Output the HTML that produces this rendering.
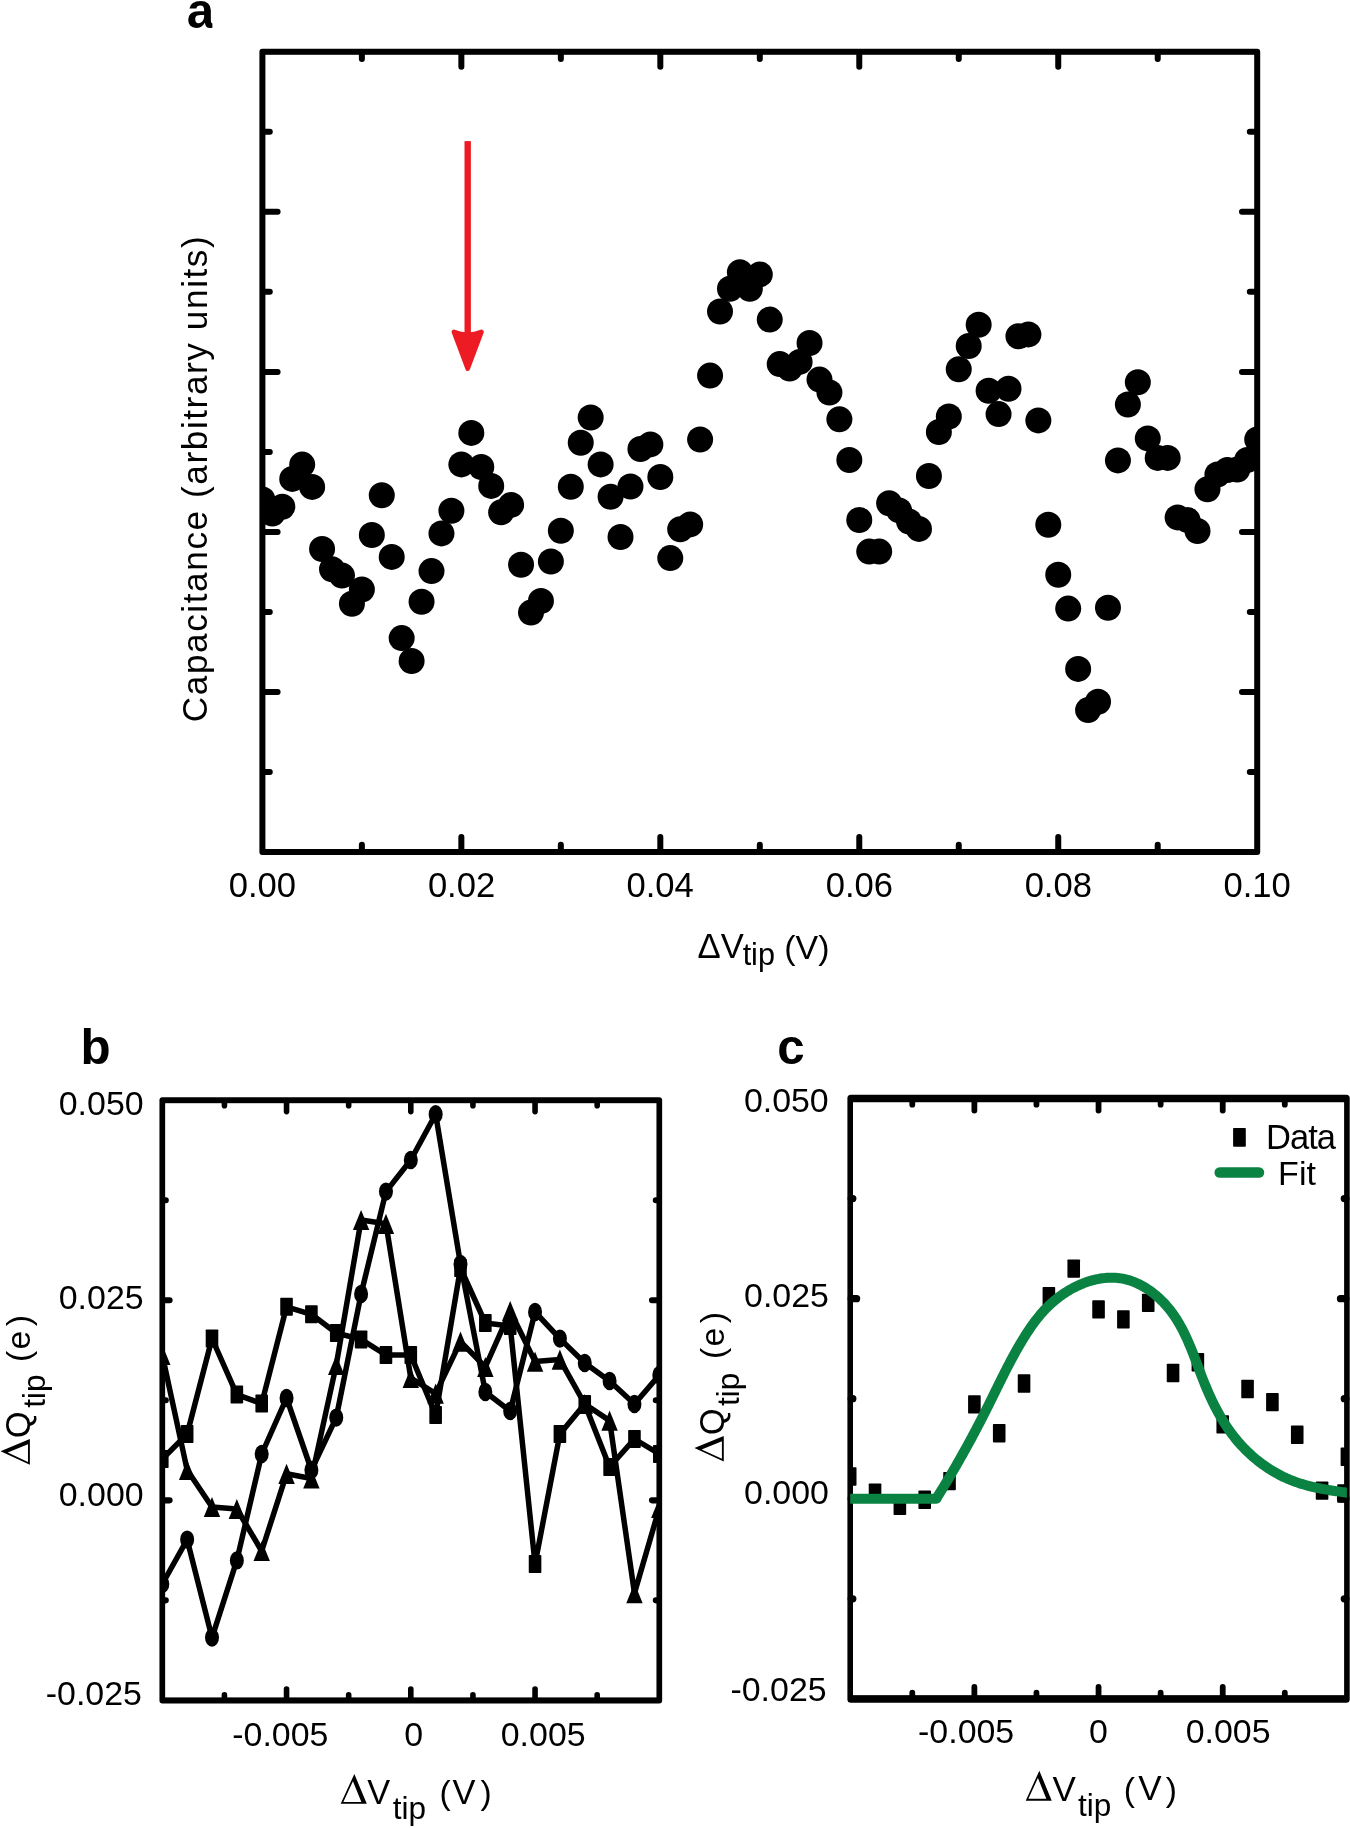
<!DOCTYPE html>
<html><head><meta charset="utf-8"><style>
html,body{margin:0;padding:0;background:#fff;width:1350px;height:1828px;overflow:hidden}
svg{display:block;will-change:transform}
</style></head><body>
<svg width="1350" height="1828" viewBox="0 0 1350 1828" font-family='"Liberation Sans", sans-serif'>
<rect width="1350" height="1828" fill="#fff"/>
<rect x="259.4" y="48.8" width="1000.8" height="806.2" rx="3" fill="#000"/>
<rect x="265.4" y="54.8" width="988.8" height="794.2" fill="#fff"/>
<path d="M263.4 131.82H269.8M1256.2 131.82H1249.8M263.4 211.84H277.6M1256.2 211.84H1242M263.4 291.86H269.8M1256.2 291.86H1249.8M263.4 371.88H277.6M1256.2 371.88H1242M263.4 451.9H269.8M1256.2 451.9H1249.8M263.4 531.92H277.6M1256.2 531.92H1242M263.4 611.94H269.8M1256.2 611.94H1249.8M263.4 691.96H277.6M1256.2 691.96H1242M263.4 771.98H269.8M1256.2 771.98H1249.8" fill="none" stroke="#000" stroke-width="6" stroke-linecap="round"/>
<path d="M361.88 52.8V59M361.88 851V844.8M461.36 52.8V66.8M461.36 851V837M560.84 52.8V59M560.84 851V844.8M660.32 52.8V66.8M660.32 851V837M759.8 52.8V59M759.8 851V844.8M859.28 52.8V66.8M859.28 851V837M958.76 52.8V59M958.76 851V844.8M1058.24 52.8V66.8M1058.24 851V837M1157.72 52.8V59M1157.72 851V844.8" fill="none" stroke="#000" stroke-width="6" stroke-linecap="round"/>
<clipPath id="ca"><rect x="262.4" y="51.8" width="994.8" height="800.2"/></clipPath>
<g fill="#000" clip-path="url(#ca)">
<circle cx="262.4" cy="499.5" r="13"/>
<circle cx="272.35" cy="513.6" r="13"/>
<circle cx="282.3" cy="506.8" r="13"/>
<circle cx="292.24" cy="478.9" r="13"/>
<circle cx="302.19" cy="464.6" r="13"/>
<circle cx="312.14" cy="486.9" r="13"/>
<circle cx="322.09" cy="549" r="13"/>
<circle cx="332.04" cy="569.3" r="13"/>
<circle cx="341.98" cy="575.6" r="13"/>
<circle cx="351.93" cy="603.7" r="13"/>
<circle cx="361.88" cy="589.5" r="13"/>
<circle cx="371.83" cy="535" r="13"/>
<circle cx="381.78" cy="495.3" r="13"/>
<circle cx="391.72" cy="556.9" r="13"/>
<circle cx="401.67" cy="638.1" r="13"/>
<circle cx="411.62" cy="661" r="13"/>
<circle cx="421.57" cy="601.7" r="13"/>
<circle cx="431.52" cy="571.1" r="13"/>
<circle cx="441.46" cy="533.4" r="13"/>
<circle cx="451.41" cy="510.7" r="13"/>
<circle cx="461.36" cy="464.4" r="13"/>
<circle cx="471.31" cy="432.9" r="13"/>
<circle cx="481.26" cy="467" r="13"/>
<circle cx="491.2" cy="485.9" r="13"/>
<circle cx="501.15" cy="512.3" r="13"/>
<circle cx="511.1" cy="504.9" r="13"/>
<circle cx="521.05" cy="564.7" r="13"/>
<circle cx="531" cy="612.6" r="13"/>
<circle cx="540.94" cy="601" r="13"/>
<circle cx="550.89" cy="561.5" r="13"/>
<circle cx="560.84" cy="530.7" r="13"/>
<circle cx="570.79" cy="486.7" r="13"/>
<circle cx="580.74" cy="442.7" r="13"/>
<circle cx="590.68" cy="417.5" r="13"/>
<circle cx="600.63" cy="464.4" r="13"/>
<circle cx="610.58" cy="496.7" r="13"/>
<circle cx="620.53" cy="537" r="13"/>
<circle cx="630.48" cy="486.5" r="13"/>
<circle cx="640.42" cy="449" r="13"/>
<circle cx="650.37" cy="444.4" r="13"/>
<circle cx="660.32" cy="477" r="13"/>
<circle cx="670.27" cy="558.1" r="13"/>
<circle cx="680.22" cy="529.3" r="13"/>
<circle cx="690.16" cy="524.4" r="13"/>
<circle cx="700.11" cy="439.5" r="13"/>
<circle cx="710.06" cy="375.6" r="13"/>
<circle cx="720.01" cy="311.5" r="13"/>
<circle cx="729.96" cy="288.8" r="13"/>
<circle cx="739.9" cy="272.2" r="13"/>
<circle cx="749.85" cy="288.8" r="13"/>
<circle cx="759.8" cy="274.4" r="13"/>
<circle cx="769.75" cy="319.6" r="13"/>
<circle cx="779.7" cy="364.1" r="13"/>
<circle cx="789.64" cy="368.5" r="13"/>
<circle cx="799.59" cy="361.9" r="13"/>
<circle cx="809.54" cy="343" r="13"/>
<circle cx="819.49" cy="379.6" r="13"/>
<circle cx="829.44" cy="392.5" r="13"/>
<circle cx="839.38" cy="419.3" r="13"/>
<circle cx="849.33" cy="460" r="13"/>
<circle cx="859.28" cy="520" r="13"/>
<circle cx="869.23" cy="551.6" r="13"/>
<circle cx="879.18" cy="551.6" r="13"/>
<circle cx="889.12" cy="503.3" r="13"/>
<circle cx="899.07" cy="510.4" r="13"/>
<circle cx="909.02" cy="521.5" r="13"/>
<circle cx="918.97" cy="528.9" r="13"/>
<circle cx="928.92" cy="476" r="13"/>
<circle cx="938.86" cy="432" r="13"/>
<circle cx="948.81" cy="416.5" r="13"/>
<circle cx="958.76" cy="369.3" r="13"/>
<circle cx="968.71" cy="346" r="13"/>
<circle cx="978.66" cy="324.8" r="13"/>
<circle cx="988.6" cy="390.7" r="13"/>
<circle cx="998.55" cy="414.1" r="13"/>
<circle cx="1008.5" cy="388.8" r="13"/>
<circle cx="1018.45" cy="336.2" r="13"/>
<circle cx="1028.4" cy="334.4" r="13"/>
<circle cx="1038.34" cy="420.4" r="13"/>
<circle cx="1048.29" cy="524.7" r="13"/>
<circle cx="1058.24" cy="574.8" r="13"/>
<circle cx="1068.19" cy="608.6" r="13"/>
<circle cx="1078.14" cy="668.9" r="13"/>
<circle cx="1088.08" cy="710.1" r="13"/>
<circle cx="1098.03" cy="701.8" r="13"/>
<circle cx="1107.98" cy="607.7" r="13"/>
<circle cx="1117.93" cy="460.4" r="13"/>
<circle cx="1127.88" cy="404.5" r="13"/>
<circle cx="1137.82" cy="382.3" r="13"/>
<circle cx="1147.77" cy="438.4" r="13"/>
<circle cx="1157.72" cy="457.9" r="13"/>
<circle cx="1167.67" cy="457.9" r="13"/>
<circle cx="1177.62" cy="517.4" r="13"/>
<circle cx="1187.56" cy="520.1" r="13"/>
<circle cx="1197.51" cy="531" r="13"/>
<circle cx="1207.46" cy="489.3" r="13"/>
<circle cx="1217.41" cy="474.5" r="13"/>
<circle cx="1227.36" cy="470" r="13"/>
<circle cx="1237.3" cy="469.5" r="13"/>
<circle cx="1247.25" cy="460" r="13"/>
<circle cx="1257.2" cy="439.4" r="13"/>
</g>
<rect x="464.5" y="141.1" width="6.4" height="195" fill="#ed1c24"/>
<path d="M453.9 331.9 L467.7 368.6 L481.5 331.9 Q467.7 337.5 453.9 331.9Z" fill="#ed1c24" stroke="#ed1c24" stroke-width="4.6" stroke-linejoin="round"/>
<clipPath id="clipa"><rect x="180" y="0" width="32.4" height="40"/></clipPath><g clip-path="url(#clipa)">
<text x="186.66" y="27.63" font-size="49.3" font-weight="bold">a</text>
</g>
<text x="228.73" y="896.56" font-size="34.6">0.00</text>
<text x="427.88" y="896.56" font-size="34.6">0.02</text>
<text x="626.48" y="896.56" font-size="34.6">0.04</text>
<text x="825.69" y="896.56" font-size="34.6">0.06</text>
<text x="1024.65" y="896.56" font-size="34.6">0.08</text>
<text x="1223.53" y="896.56" font-size="34.6">0.10</text>
<text transform="translate(206.5 722.19) rotate(-90)" font-size="35.2" letter-spacing="1.57">Capacitance (arbitrary units)</text>
<text x="697.57" y="958.4" font-size="34.7">Δ</text>
<text x="720.75" y="958.4" font-size="34.6">V</text>
<text x="742.64" y="965.2" font-size="30.6">tip</text>
<text x="784.3" y="959.06" font-size="33.9">(V)</text>
<rect x="159.45" y="1097.2" width="502.7" height="606.2" rx="3" fill="#000"/>
<rect x="165.15" y="1103.2" width="491.3" height="594.2" fill="#fff"/>
<path d="M163.3 1200.23H165.8M658.3 1200.23H655.8M163.3 1300.27H169.6M658.3 1300.27H652M163.3 1400.3H165.8M658.3 1400.3H655.8M163.3 1500.33H169.6M658.3 1500.33H652M163.3 1600.37H165.8M658.3 1600.37H655.8" fill="none" stroke="#000" stroke-width="6.1" stroke-linecap="round"/>
<path d="M224.43 1101.2V1105.7M224.43 1699.4V1694.9M286.55 1101.2V1111.6M286.55 1699.4V1689M348.67 1101.2V1105.7M348.67 1699.4V1694.9M410.8 1101.2V1111.6M410.8 1699.4V1689M472.92 1101.2V1105.7M472.92 1699.4V1694.9M535.05 1101.2V1111.6M535.05 1699.4V1689M597.17 1101.2V1105.7M597.17 1699.4V1694.9" fill="none" stroke="#000" stroke-width="5.6" stroke-linecap="round"/>
<clipPath id="cb"><rect x="162.3" y="1100.2" width="497" height="600.2"/></clipPath>
<g clip-path="url(#cb)">
<g fill="none" stroke="#000" stroke-width="5.5" stroke-linejoin="round" stroke-linecap="round">
<path d="M162.3 1459 L187.15 1434 L212 1338.5 L236.85 1394.6 L261.7 1403.6 L286.55 1306.8 L311.4 1314.3 L336.25 1333 L361.1 1339.4 L385.95 1355 L410.8 1355 L435.65 1415 L460.5 1268 L485.35 1323 L510.2 1326 L535.05 1564 L559.9 1434 L584.75 1404 L609.6 1467 L634.45 1439 L659.3 1454"/>
<path d="M162.3 1584 L187.15 1539.6 L212 1637.6 L236.85 1560.4 L261.7 1454 L286.55 1398 L311.4 1470 L336.25 1417.6 L361.1 1294 L385.95 1191.6 L410.8 1160 L435.65 1114.3 L460.5 1264 L485.35 1392 L510.2 1411 L535.05 1312 L559.9 1338.6 L584.75 1363 L609.6 1381 L634.45 1404 L659.3 1375"/>
<path d="M162.3 1355 L187.15 1470 L212 1507 L236.85 1509 L261.7 1551 L286.55 1473.8 L311.4 1478.5 L336.25 1365 L361.1 1220 L385.95 1223.8 L410.8 1378 L435.65 1393.6 L460.5 1341.6 L485.35 1367 L510.2 1311 L535.05 1361.6 L559.9 1359.6 L584.75 1404 L609.6 1420.6 L634.45 1593.2 L659.3 1508"/>
</g>
<g fill="#000">
<rect x="156" y="1450" width="12.6" height="18" rx="0.8"/>
<rect x="180.85" y="1425" width="12.6" height="18" rx="0.8"/>
<rect x="205.7" y="1329.5" width="12.6" height="18" rx="0.8"/>
<rect x="230.55" y="1385.6" width="12.6" height="18" rx="0.8"/>
<rect x="255.4" y="1394.6" width="12.6" height="18" rx="0.8"/>
<rect x="280.25" y="1297.8" width="12.6" height="18" rx="0.8"/>
<rect x="305.1" y="1305.3" width="12.6" height="18" rx="0.8"/>
<rect x="329.95" y="1324" width="12.6" height="18" rx="0.8"/>
<rect x="354.8" y="1330.4" width="12.6" height="18" rx="0.8"/>
<rect x="379.65" y="1346" width="12.6" height="18" rx="0.8"/>
<rect x="404.5" y="1346" width="12.6" height="18" rx="0.8"/>
<rect x="429.35" y="1406" width="12.6" height="18" rx="0.8"/>
<rect x="454.2" y="1259" width="12.6" height="18" rx="0.8"/>
<rect x="479.05" y="1314" width="12.6" height="18" rx="0.8"/>
<rect x="503.9" y="1317" width="12.6" height="18" rx="0.8"/>
<rect x="528.75" y="1555" width="12.6" height="18" rx="0.8"/>
<rect x="553.6" y="1425" width="12.6" height="18" rx="0.8"/>
<rect x="578.45" y="1395" width="12.6" height="18" rx="0.8"/>
<rect x="603.3" y="1458" width="12.6" height="18" rx="0.8"/>
<rect x="628.15" y="1430" width="12.6" height="18" rx="0.8"/>
<rect x="653" y="1445" width="12.6" height="18" rx="0.8"/>
<ellipse cx="162.3" cy="1584" rx="7" ry="9.2"/>
<ellipse cx="187.15" cy="1539.6" rx="7" ry="9.2"/>
<ellipse cx="212" cy="1637.6" rx="7" ry="9.2"/>
<ellipse cx="236.85" cy="1560.4" rx="7" ry="9.2"/>
<ellipse cx="261.7" cy="1454" rx="7" ry="9.2"/>
<ellipse cx="286.55" cy="1398" rx="7" ry="9.2"/>
<ellipse cx="311.4" cy="1470" rx="7" ry="9.2"/>
<ellipse cx="336.25" cy="1417.6" rx="7" ry="9.2"/>
<ellipse cx="361.1" cy="1294" rx="7" ry="9.2"/>
<ellipse cx="385.95" cy="1191.6" rx="7" ry="9.2"/>
<ellipse cx="410.8" cy="1160" rx="7" ry="9.2"/>
<ellipse cx="435.65" cy="1114.3" rx="7" ry="9.2"/>
<ellipse cx="460.5" cy="1264" rx="7" ry="9.2"/>
<ellipse cx="485.35" cy="1392" rx="7" ry="9.2"/>
<ellipse cx="510.2" cy="1411" rx="7" ry="9.2"/>
<ellipse cx="535.05" cy="1312" rx="7" ry="9.2"/>
<ellipse cx="559.9" cy="1338.6" rx="7" ry="9.2"/>
<ellipse cx="584.75" cy="1363" rx="7" ry="9.2"/>
<ellipse cx="609.6" cy="1381" rx="7" ry="9.2"/>
<ellipse cx="634.45" cy="1404" rx="7" ry="9.2"/>
<ellipse cx="659.3" cy="1375" rx="7" ry="9.2"/>
<path d="M162.3 1344.9L170.5 1365.1L154.1 1365.1Z"/>
<path d="M187.15 1459.9L195.35 1480.1L178.95 1480.1Z"/>
<path d="M212 1496.9L220.2 1517.1L203.8 1517.1Z"/>
<path d="M236.85 1498.9L245.05 1519.1L228.65 1519.1Z"/>
<path d="M261.7 1540.9L269.9 1561.1L253.5 1561.1Z"/>
<path d="M286.55 1463.7L294.75 1483.9L278.35 1483.9Z"/>
<path d="M311.4 1468.4L319.6 1488.6L303.2 1488.6Z"/>
<path d="M336.25 1354.9L344.45 1375.1L328.05 1375.1Z"/>
<path d="M361.1 1209.9L369.3 1230.1L352.9 1230.1Z"/>
<path d="M385.95 1213.7L394.15 1233.9L377.75 1233.9Z"/>
<path d="M410.8 1367.9L419 1388.1L402.6 1388.1Z"/>
<path d="M435.65 1383.5L443.85 1403.7L427.45 1403.7Z"/>
<path d="M460.5 1331.5L468.7 1351.7L452.3 1351.7Z"/>
<path d="M485.35 1356.9L493.55 1377.1L477.15 1377.1Z"/>
<path d="M510.2 1300.9L518.4 1321.1L502 1321.1Z"/>
<path d="M535.05 1351.5L543.25 1371.7L526.85 1371.7Z"/>
<path d="M559.9 1349.5L568.1 1369.7L551.7 1369.7Z"/>
<path d="M584.75 1393.9L592.95 1414.1L576.55 1414.1Z"/>
<path d="M609.6 1410.5L617.8 1430.7L601.4 1430.7Z"/>
<path d="M634.45 1583.1L642.65 1603.3L626.25 1603.3Z"/>
<path d="M659.3 1497.9L667.5 1518.1L651.1 1518.1Z"/>
</g>
</g>
<text x="80.45" y="1063.92" font-size="49.3" font-weight="bold">b</text>
<text x="58.78" y="1115.37" font-size="33.9">0.050</text>
<text x="58.78" y="1309.07" font-size="33.9">0.025</text>
<text x="58.78" y="1505.97" font-size="33.9">0.000</text>
<text x="45.79" y="1704.57" font-size="33.9">-0.025</text>
<text x="232.29" y="1745.87" font-size="33.9">-0.005</text>
<text x="404.28" y="1745.87" font-size="33.9">0</text>
<text x="500.78" y="1745.87" font-size="33.9">0.005</text>
<path transform="translate(340.67 1803.87)" d="M13.67 -29.87L0 0L26.13 0Z M12.25 -22.55L20.69 -1.91L2.67 -1.91Z" fill-rule="evenodd"/>
<text x="367.25" y="1803.7" font-size="34.4">V</text>
<text x="392.82" y="1818.5" font-size="31.5">tip</text>
<text x="439.42" y="1804.35" font-size="33.6">(</text>
<text x="452.45" y="1803.67" font-size="34.4">V</text>
<text x="480.5" y="1804.35" font-size="33.6">)</text>
<path transform="translate(29.87 1464.7) rotate(-90)" d="M13.49 -29.34L0 0L25.8 0Z M12.1 -22.15L20.43 -1.88L2.63 -1.88Z" fill-rule="evenodd"/>
<text transform="translate(30.3 1438.33) rotate(-90)" font-size="34.5">Q</text>
<text transform="translate(44.6 1407.78) rotate(-90)" font-size="31.5">tip</text>
<text transform="translate(29.5 1362.1) rotate(-90)" font-size="33.8">(</text>
<text transform="translate(29.5 1349.44) rotate(-90)" font-size="33.8">e</text>
<text transform="translate(29.5 1326.2) rotate(-90)" font-size="33.8">)</text>
<rect x="847.4" y="1094.75" width="502.3" height="607.9" rx="3.5" fill="#000"/>
<rect x="853" y="1102.25" width="491.1" height="592.9" fill="#fff"/>
<path d="M851.2 1198.57H852.8M1345.9 1198.57H1344.3M851.2 1298.63H856.6M1345.9 1298.63H1340.5M851.2 1398.7H852.8M1345.9 1398.7H1344.3M851.2 1498.77H856.6M1345.9 1498.77H1340.5M851.2 1598.83H852.8M1345.9 1598.83H1344.3" fill="none" stroke="#000" stroke-width="7.3" stroke-linecap="round"/>
<path d="M912.29 1099.5V1104.7M912.29 1697.9V1692.7M974.38 1099.5V1110.5M974.38 1697.9V1686.9M1036.46 1099.5V1104.7M1036.46 1697.9V1692.7M1098.55 1099.5V1110.5M1098.55 1697.9V1686.9M1160.64 1099.5V1104.7M1160.64 1697.9V1692.7M1222.73 1099.5V1110.5M1222.73 1697.9V1686.9M1284.81 1099.5V1104.7M1284.81 1697.9V1692.7" fill="none" stroke="#000" stroke-width="5.8" stroke-linecap="round"/>
<clipPath id="cc"><rect x="850.2" y="1098.5" width="496.7" height="600.4"/></clipPath>
<g clip-path="url(#cc)">
<g fill="#000">
<rect x="843.9" y="1467.3" width="12.6" height="18.4" rx="0.8"/>
<rect x="868.74" y="1483.4" width="12.6" height="18.4" rx="0.8"/>
<rect x="893.57" y="1496.7" width="12.6" height="18.4" rx="0.8"/>
<rect x="918.41" y="1490.6" width="12.6" height="18.4" rx="0.8"/>
<rect x="943.24" y="1471.9" width="12.6" height="18.4" rx="0.8"/>
<rect x="968.08" y="1395.2" width="12.6" height="18.4" rx="0.8"/>
<rect x="992.91" y="1424" width="12.6" height="18.4" rx="0.8"/>
<rect x="1017.75" y="1374.3" width="12.6" height="18.4" rx="0.8"/>
<rect x="1042.58" y="1287.1" width="12.6" height="18.4" rx="0.8"/>
<rect x="1067.42" y="1259.4" width="12.6" height="18.4" rx="0.8"/>
<rect x="1092.25" y="1300.2" width="12.6" height="18.4" rx="0.8"/>
<rect x="1117.09" y="1310.2" width="12.6" height="18.4" rx="0.8"/>
<rect x="1141.92" y="1293.7" width="12.6" height="18.4" rx="0.8"/>
<rect x="1166.76" y="1363.8" width="12.6" height="18.4" rx="0.8"/>
<rect x="1191.59" y="1353.1" width="12.6" height="18.4" rx="0.8"/>
<rect x="1216.43" y="1415.2" width="12.6" height="18.4" rx="0.8"/>
<rect x="1241.26" y="1379.8" width="12.6" height="18.4" rx="0.8"/>
<rect x="1266.1" y="1392.9" width="12.6" height="18.4" rx="0.8"/>
<rect x="1290.93" y="1425.6" width="12.6" height="18.4" rx="0.8"/>
<rect x="1315.77" y="1481.4" width="12.6" height="18.4" rx="0.8"/>
<rect x="1340.6" y="1447.6" width="12.6" height="18.4" rx="0.8"/>
<rect x="1337.2" y="1484.3" width="12.6" height="18.4" rx="0.8"/>
</g>
<path d="M850 1498.8 L936.5 1498.8 L936.29 1498.67 L937.14 1497.31 L937.98 1495.94 L938.83 1494.58 L939.67 1493.21 L940.51 1491.85 L941.35 1490.48 L942.19 1489.11 L943.03 1487.74 L943.86 1486.37 L944.69 1485.00 L945.52 1483.62 L946.35 1482.25 L947.17 1480.87 L948.00 1479.49 L948.82 1478.11 L949.64 1476.73 L950.45 1475.35 L951.27 1473.97 L952.08 1472.58 L952.89 1471.19 L953.70 1469.81 L954.51 1468.42 L955.32 1467.03 L956.12 1465.64 L956.92 1464.25 L957.72 1462.85 L958.52 1461.46 L959.31 1460.06 L960.10 1458.66 L960.90 1457.27 L961.68 1455.87 L962.47 1454.47 L963.26 1453.06 L964.04 1451.66 L964.82 1450.26 L965.60 1448.85 L966.38 1447.44 L967.15 1446.03 L967.93 1444.62 L968.70 1443.21 L969.46 1441.80 L970.23 1440.39 L971.00 1438.98 L971.76 1437.56 L972.52 1436.14 L973.28 1434.73 L974.04 1433.31 L974.79 1431.89 L975.54 1430.47 L976.29 1429.05 L977.04 1427.62 L977.79 1426.20 L978.53 1424.77 L979.27 1423.35 L980.01 1421.92 L980.75 1420.49 L981.49 1419.06 L982.22 1417.63 L982.96 1416.20 L983.69 1414.77 L984.41 1413.33 L985.14 1411.90 L985.86 1410.46 L986.58 1409.02 L987.30 1407.59 L988.02 1406.15 L988.74 1404.71 L989.45 1403.27 L990.17 1401.83 L990.88 1400.38 L991.59 1398.94 L992.30 1397.50 L993.01 1396.06 L993.72 1394.61 L994.43 1393.17 L995.13 1391.73 L995.84 1390.28 L996.55 1388.84 L997.26 1387.40 L997.97 1385.96 L998.68 1384.52 L999.39 1383.08 L1000.11 1381.64 L1000.82 1380.20 L1001.54 1378.76 L1002.25 1377.33 L1002.97 1375.89 L1003.69 1374.46 L1004.42 1373.02 L1005.14 1371.59 L1005.87 1370.17 L1006.60 1368.74 L1007.34 1367.31 L1008.07 1365.89 L1008.81 1364.47 L1009.56 1363.05 L1010.31 1361.63 L1011.06 1360.22 L1011.81 1358.80 L1012.57 1357.39 L1013.34 1355.99 L1014.11 1354.58 L1014.88 1353.18 L1015.66 1351.78 L1016.44 1350.39 L1017.23 1349.00 L1018.03 1347.61 L1018.83 1346.22 L1019.63 1344.84 L1020.44 1343.46 L1021.26 1342.09 L1022.09 1340.72 L1022.92 1339.35 L1023.75 1337.99 L1024.60 1336.63 L1025.45 1335.28 L1026.31 1333.93 L1027.18 1332.59 L1028.06 1331.25 L1028.94 1329.92 L1029.84 1328.59 L1030.74 1327.27 L1031.66 1325.96 L1032.59 1324.66 L1033.53 1323.37 L1034.48 1322.08 L1035.44 1320.80 L1036.42 1319.54 L1037.40 1318.28 L1038.41 1317.03 L1039.42 1315.79 L1040.46 1314.57 L1041.50 1313.35 L1042.57 1312.15 L1043.64 1310.96 L1044.74 1309.78 L1045.85 1308.62 L1046.98 1307.46 L1048.13 1306.33 L1049.29 1305.20 L1050.48 1304.09 L1051.68 1303.00 L1052.91 1301.92 L1054.15 1300.86 L1055.41 1299.81 L1056.69 1298.78 L1057.98 1297.77 L1059.30 1296.78 L1060.62 1295.80 L1061.97 1294.85 L1063.33 1293.91 L1064.70 1293.00 L1066.09 1292.10 L1067.50 1291.23 L1068.91 1290.38 L1070.34 1289.55 L1071.78 1288.74 L1073.23 1287.96 L1074.70 1287.20 L1076.17 1286.47 L1077.65 1285.76 L1079.14 1285.08 L1080.65 1284.42 L1082.15 1283.79 L1083.67 1283.19 L1085.20 1282.62 L1086.73 1282.07 L1088.26 1281.56 L1089.80 1281.07 L1091.35 1280.61 L1092.90 1280.19 L1094.46 1279.79 L1096.02 1279.43 L1097.58 1279.10 L1099.14 1278.80 L1100.71 1278.54 L1102.27 1278.31 L1103.84 1278.11 L1105.41 1277.95 L1106.97 1277.83 L1108.54 1277.74 L1110.10 1277.69 L1111.66 1277.67 L1113.22 1277.70 L1114.78 1277.76 L1116.33 1277.86 L1117.88 1278.00 L1119.42 1278.18 L1120.96 1278.40 L1122.49 1278.66 L1124.01 1278.96 L1125.53 1279.31 L1127.04 1279.69 L1128.54 1280.11 L1130.04 1280.58 L1131.52 1281.08 L1133.00 1281.62 L1134.46 1282.19 L1135.92 1282.80 L1137.37 1283.45 L1138.80 1284.13 L1140.22 1284.84 L1141.64 1285.58 L1143.03 1286.36 L1144.42 1287.17 L1145.79 1288.00 L1147.15 1288.87 L1148.50 1289.76 L1149.82 1290.68 L1151.14 1291.63 L1152.44 1292.60 L1153.72 1293.60 L1154.99 1294.62 L1156.24 1295.66 L1157.47 1296.73 L1158.68 1297.82 L1159.88 1298.92 L1161.06 1300.05 L1162.21 1301.20 L1163.35 1302.36 L1164.47 1303.55 L1165.57 1304.74 L1166.64 1305.96 L1167.70 1307.19 L1168.73 1308.43 L1169.74 1309.69 L1170.73 1310.95 L1171.70 1312.23 L1172.65 1313.53 L1173.57 1314.83 L1174.48 1316.15 L1175.37 1317.48 L1176.24 1318.82 L1177.09 1320.17 L1177.92 1321.52 L1178.74 1322.89 L1179.54 1324.27 L1180.33 1325.66 L1181.10 1327.06 L1181.86 1328.47 L1182.60 1329.88 L1183.33 1331.30 L1184.04 1332.73 L1184.75 1334.17 L1185.44 1335.62 L1186.12 1337.07 L1186.79 1338.53 L1187.45 1339.99 L1188.10 1341.46 L1188.74 1342.94 L1189.37 1344.42 L1189.99 1345.91 L1190.61 1347.40 L1191.22 1348.89 L1191.83 1350.39 L1192.42 1351.89 L1193.02 1353.40 L1193.61 1354.91 L1194.19 1356.42 L1194.77 1357.94 L1195.35 1359.45 L1195.93 1360.97 L1196.50 1362.49 L1197.08 1364.01 L1197.65 1365.54 L1198.22 1367.06 L1198.79 1368.58 L1199.37 1370.10 L1199.94 1371.63 L1200.52 1373.15 L1201.10 1374.67 L1201.68 1376.19 L1202.27 1377.71 L1202.86 1379.22 L1203.46 1380.74 L1204.06 1382.25 L1204.67 1383.76 L1205.28 1385.26 L1205.91 1386.76 L1206.53 1388.26 L1207.17 1389.76 L1207.81 1391.25 L1208.46 1392.73 L1209.12 1394.22 L1209.78 1395.69 L1210.46 1397.17 L1211.14 1398.64 L1211.83 1400.10 L1212.53 1401.56 L1213.23 1403.01 L1213.95 1404.46 L1214.67 1405.90 L1215.41 1407.33 L1216.15 1408.76 L1216.90 1410.18 L1217.67 1411.60 L1218.44 1413.01 L1219.22 1414.41 L1220.02 1415.81 L1220.82 1417.20 L1221.63 1418.58 L1222.46 1419.95 L1223.29 1421.31 L1224.14 1422.67 L1225.00 1424.02 L1225.87 1425.36 L1226.75 1426.69 L1227.65 1428.02 L1228.55 1429.33 L1229.47 1430.64 L1230.40 1431.93 L1231.34 1433.22 L1232.30 1434.49 L1233.27 1435.76 L1234.25 1437.02 L1235.25 1438.26 L1236.26 1439.50 L1237.28 1440.73 L1238.31 1441.94 L1239.36 1443.14 L1240.43 1444.34 L1241.50 1445.52 L1242.59 1446.69 L1243.69 1447.84 L1244.81 1448.99 L1245.93 1450.12 L1247.07 1451.24 L1248.23 1452.35 L1249.39 1453.45 L1250.57 1454.53 L1251.75 1455.60 L1252.95 1456.66 L1254.17 1457.70 L1255.39 1458.73 L1256.62 1459.75 L1257.87 1460.75 L1259.13 1461.74 L1260.40 1462.71 L1261.68 1463.67 L1262.97 1464.61 L1264.27 1465.54 L1265.58 1466.46 L1266.90 1467.36 L1268.23 1468.24 L1269.58 1469.11 L1270.93 1469.96 L1272.29 1470.80 L1273.67 1471.62 L1275.05 1472.42 L1276.44 1473.21 L1277.84 1473.98 L1279.25 1474.73 L1280.67 1475.46 L1282.10 1476.18 L1283.54 1476.88 L1284.99 1477.57 L1286.45 1478.23 L1287.91 1478.88 L1289.38 1479.51 L1290.86 1480.12 L1292.35 1480.71 L1293.85 1481.28 L1295.36 1481.84 L1296.87 1482.37 L1298.39 1482.89 L1299.92 1483.39 L1301.46 1483.87 L1303.00 1484.34 L1304.54 1484.79 L1306.10 1485.22 L1307.65 1485.64 L1309.22 1486.04 L1310.78 1486.43 L1312.36 1486.81 L1313.93 1487.17 L1315.51 1487.52 L1317.09 1487.86 L1318.68 1488.19 L1320.27 1488.50 L1321.86 1488.81 L1323.45 1489.11 L1325.04 1489.39 L1326.64 1489.67 L1328.24 1489.94 L1329.83 1490.20 L1331.43 1490.46 L1333.02 1490.71 L1334.62 1490.95 L1336.21 1491.18 L1337.81 1491.41 L1339.40 1491.64 L1340.99 1491.86 L1342.58 1492.08 L1344.16 1492.30 L1345.74 1492.51 L1347.32 1492.72 L1348.90 1492.93 L1350.47 1493.14 L1352.03 1493.35" fill="none" stroke="#0a8242" stroke-width="10" stroke-linejoin="round"/>
</g>
<rect x="1233.1" y="1128" width="12.7" height="18.7" rx="0.8" fill="#000"/>
<path d="M1219.7 1172.5H1259" stroke="#0a8242" stroke-width="10.5" stroke-linecap="round"/>
<text x="1266.07" y="1148.76" font-size="34.5" letter-spacing="-1">Data</text>
<text x="1278.11" y="1184.84" font-size="34">Fit</text>
<text x="777.27" y="1063.63" font-size="49.3" font-weight="bold">c</text>
<text x="743.88" y="1111.87" font-size="33.9">0.050</text>
<text x="744.08" y="1306.67" font-size="33.9">0.025</text>
<text x="744.08" y="1503.67" font-size="33.9">0.000</text>
<text x="730.49" y="1700.97" font-size="33.9">-0.025</text>
<text x="918.09" y="1742.57" font-size="33.9">-0.005</text>
<text x="1089.08" y="1742.97" font-size="33.9">0</text>
<text x="1185.68" y="1742.57" font-size="33.9">0.005</text>
<path transform="translate(1025.73 1800.67)" d="M13.6 -30L0 0L26 0Z M12.19 -22.65L20.59 -1.92L2.65 -1.92Z" fill-rule="evenodd"/>
<text x="1052.45" y="1800.7" font-size="35">V</text>
<text x="1078.02" y="1815.6" font-size="31.5">tip</text>
<text x="1123.82" y="1800.65" font-size="33.6">(</text>
<text x="1138.35" y="1800.38" font-size="35">V</text>
<text x="1165.8" y="1800.65" font-size="33.6">)</text>
<path transform="translate(723.78 1461.4) rotate(-90)" d="M13.32 -29.34L0 0L25.47 0Z M11.95 -22.15L20.17 -1.88L2.6 -1.88Z" fill-rule="evenodd"/>
<text transform="translate(724.4 1435.33) rotate(-90)" font-size="34.5">Q</text>
<text transform="translate(738.6 1405.88) rotate(-90)" font-size="31.5">tip</text>
<text transform="translate(724.2 1359) rotate(-90)" font-size="33.8">(</text>
<text transform="translate(724.2 1346.44) rotate(-90)" font-size="33.8">e</text>
<text transform="translate(724.2 1323.2) rotate(-90)" font-size="33.8">)</text>
</svg>
</body></html>
